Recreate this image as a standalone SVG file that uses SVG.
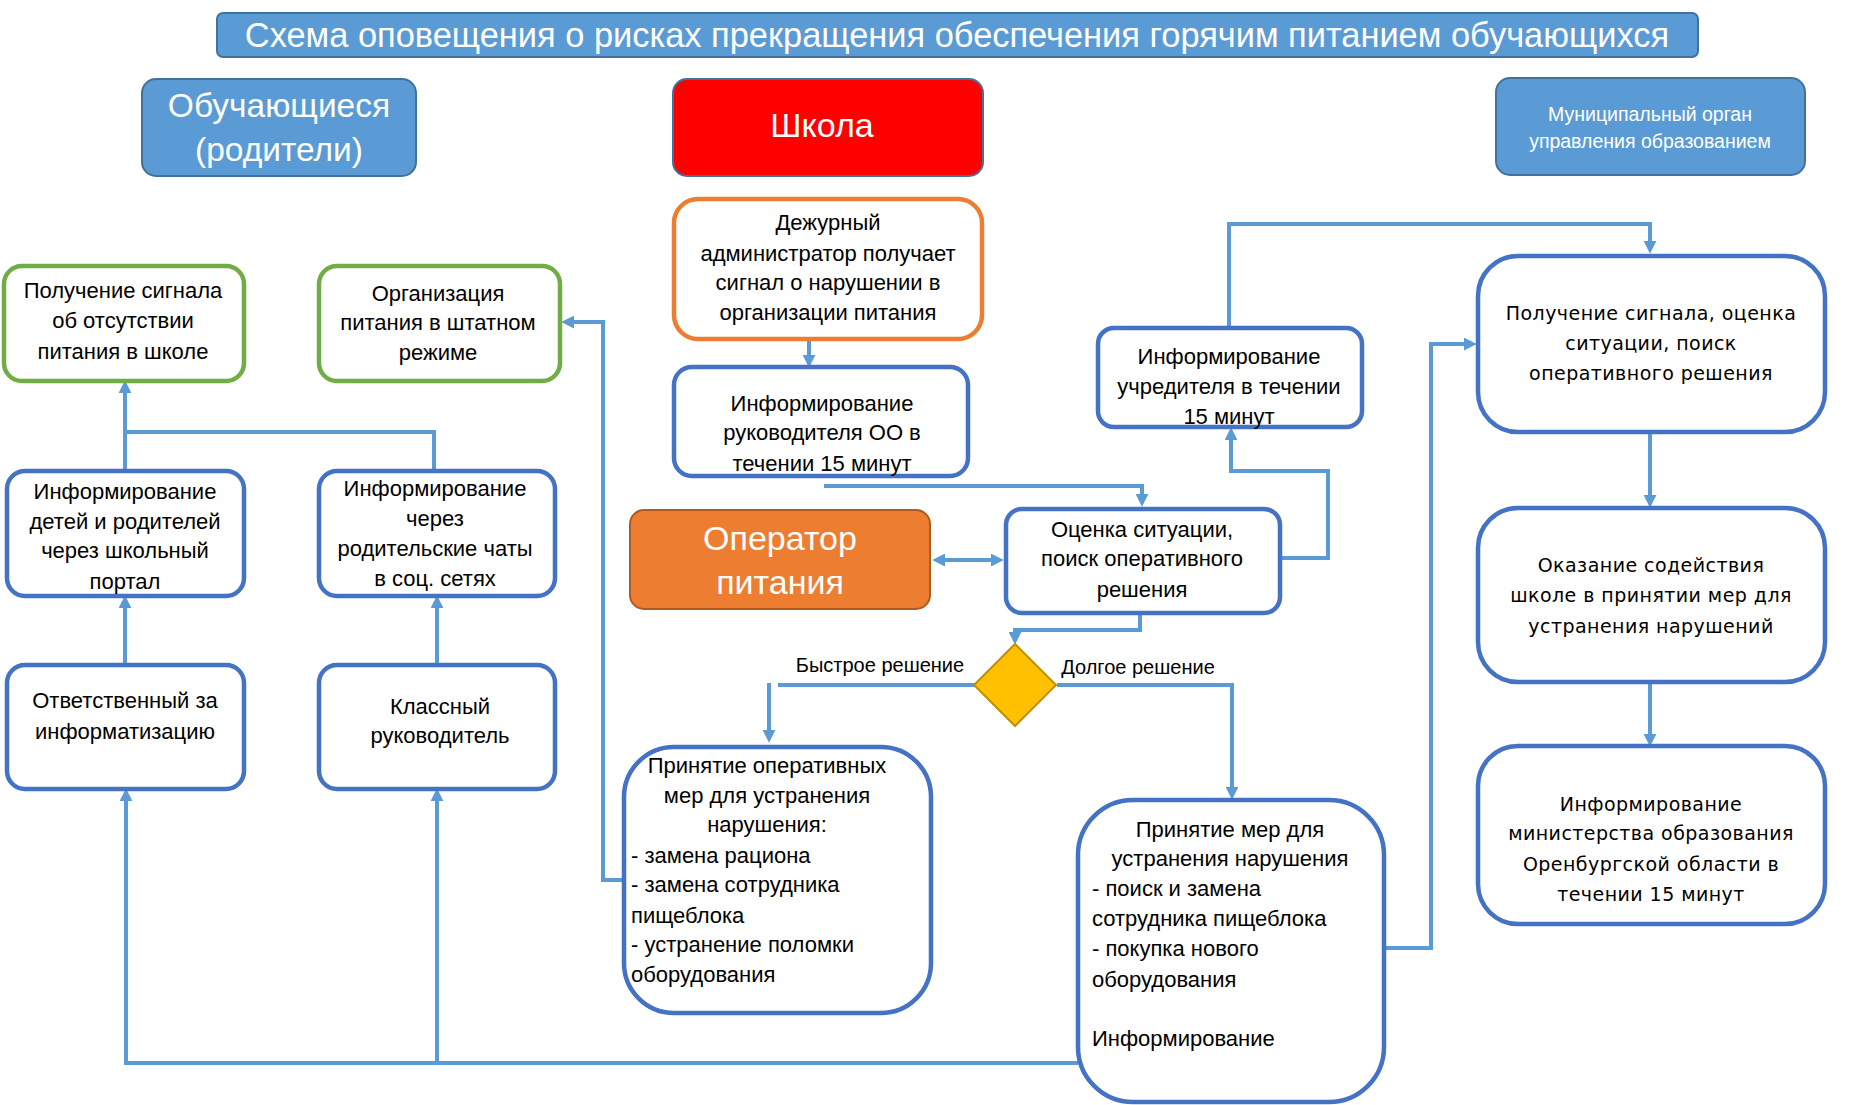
<svg xmlns="http://www.w3.org/2000/svg" width="1851" height="1105" viewBox="0 0 1851 1105">
<defs>
<marker id="arr" viewBox="0 0 12 12" markerWidth="13" markerHeight="13" refX="2" refY="6" orient="auto-start-reverse" markerUnits="userSpaceOnUse">
<path d="M0,0 L12,6 L0,12 z" fill="#5b9bd5"/>
</marker>
</defs>
<style>
text{font-family:"Liberation Sans",Arial,sans-serif;fill:#000;}
.t{font-size:22px;text-anchor:middle;}
.l{font-size:22px;text-anchor:start;}
.w{font-family:"DejaVu Sans",sans-serif;font-size:19px;letter-spacing:0.45px;text-anchor:middle;}
.hd{fill:#5b9bd5;stroke:#41719c;stroke-width:2;}
.hdt{fill:#fff;text-anchor:middle;}
.bb{fill:#fff;stroke:#4472c4;stroke-width:4.5;}
.gb{fill:#fff;stroke:#70ad47;stroke-width:4.5;}
.ob{fill:#fff;stroke:#ed7d31;stroke-width:4.5;}
.c{fill:none;stroke:#5b9bd5;stroke-width:4;}
.lbl{font-size:20px;text-anchor:middle;}
</style>
<rect width="1851" height="1105" fill="#fff"/>

<g id="title">
<rect class="hd" x="217" y="13" width="1481" height="44" rx="6"/>
<text class="hdt" x="957" y="47" font-size="34.4">Схема оповещения о рисках прекращения обеспечения горячим питанием обучающихся</text>
</g>

<g id="students">
<rect class="hd" x="142" y="79" width="274" height="97" rx="14"/>
<text class="hdt" x="279" y="117" font-size="33.5">Обучающиеся</text>
<text class="hdt" x="279" y="161" font-size="33.5">(родители)</text>
</g>

<g id="school">
<rect x="673" y="79" width="310" height="97" rx="14" fill="#ff0000" stroke="#41719c" stroke-width="2"/>
<text class="hdt" x="822" y="137" font-size="34">Школа</text>
</g>

<g id="muni">
<rect class="hd" x="1496" y="78" width="309" height="97" rx="14"/>
<text class="hdt" x="1650" y="121" font-size="19.5">Муниципальный орган</text>
<text class="hdt" x="1650" y="148" font-size="19.5">управления образованием</text>
</g>

<g id="connectors">
<path class="c" d="M809,341 V357" marker-end="url(#arr)"/>
<path class="c" d="M824,486 H1142 V496" marker-end="url(#arr)"/>
<path class="c" d="M943,560 H993" marker-start="url(#arr)" marker-end="url(#arr)"/>
<path class="c" d="M1282,558 H1328 V471 H1231 V438" marker-end="url(#arr)"/>
<path class="c" d="M1229,328 V224 H1650 V243" marker-end="url(#arr)"/>
<path class="c" d="M1650,432 V497" marker-end="url(#arr)"/>
<path class="c" d="M1650,682 V736" marker-end="url(#arr)"/>
<path class="c" d="M1140,613 V630 H1015 V634" marker-end="url(#arr)"/>
<path class="c" d="M975,685 H778"/>
<path class="c" d="M769,683 V732" marker-end="url(#arr)"/>
<path class="c" d="M1057,685 H1232 V789" marker-end="url(#arr)"/>
<path class="c" d="M626,880 H603 V322 H572" marker-end="url(#arr)"/>
<path class="c" d="M1384,948 H1431 V344 H1466" marker-end="url(#arr)"/>
<path class="c" d="M1078,1063 H126 V799" marker-end="url(#arr)"/>
<path class="c" d="M437,1063 V799" marker-end="url(#arr)"/>
<path class="c" d="M125,665 V606" marker-end="url(#arr)"/>
<path class="c" d="M437,665 V606" marker-end="url(#arr)"/>
<path class="c" d="M125,471 V391" marker-end="url(#arr)"/>
<path class="c" d="M434,469 V432 H125"/>
</g>

<g id="n_signal_absent">
<rect class="gb" x="4" y="266" width="240" height="115" rx="18"/>
<text class="t" x="123" y="298">Получение сигнала</text>
<text class="t" x="123" y="328">об отсутствии</text>
<text class="t" x="123" y="359">питания в школе</text>
</g>

<g id="n_normal">
<rect class="gb" x="319" y="266" width="241" height="115" rx="18"/>
<text class="t" x="438" y="301">Организация</text>
<text class="t" x="438" y="330">питания в штатном</text>
<text class="t" x="438" y="360">режиме</text>
</g>

<g id="n_portal">
<rect class="bb" x="7" y="471" width="237" height="125" rx="18"/>
<text class="t" x="125" y="499">Информирование</text>
<text class="t" x="125" y="529">детей и родителей</text>
<text class="t" x="125" y="558">через школьный</text>
<text class="t" x="125" y="589">портал</text>
</g>

<g id="n_chats">
<rect class="bb" x="319" y="471" width="236" height="125" rx="18"/>
<text class="t" x="435" y="496">Информирование</text>
<text class="t" x="435" y="526">через</text>
<text class="t" x="435" y="556">родительские чаты</text>
<text class="t" x="435" y="586">в соц. сетях</text>
</g>

<g id="n_it">
<rect class="bb" x="7" y="665" width="237" height="124" rx="18"/>
<text class="t" x="125" y="708">Ответственный за</text>
<text class="t" x="125" y="739">информатизацию</text>
</g>

<g id="n_teacher">
<rect class="bb" x="319" y="665" width="236" height="124" rx="18"/>
<text class="t" x="440" y="714">Классный</text>
<text class="t" x="440" y="743">руководитель</text>
</g>

<g id="n_duty">
<rect class="ob" x="674" y="199" width="308" height="140" rx="24"/>
<text class="t" x="828" y="230">Дежурный</text>
<text class="t" x="828" y="261">администратор получает</text>
<text class="t" x="828" y="290">сигнал о нарушении в</text>
<text class="t" x="828" y="320">организации питания</text>
</g>

<g id="n_head">
<rect class="bb" x="674" y="367" width="294" height="109" rx="18"/>
<text class="t" x="822" y="411">Информирование</text>
<text class="t" x="822" y="440">руководителя ОО в</text>
<text class="t" x="822" y="471">течении 15 минут</text>
</g>

<g id="n_operator">
<rect x="630" y="510" width="300" height="99" rx="14" fill="#ed7d31" stroke="#ae5a21" stroke-width="2"/>
<text class="hdt" x="780" y="550" font-size="34">Оператор</text>
<text class="hdt" x="780" y="594" font-size="34">питания</text>
</g>

<g id="n_assess">
<rect class="bb" x="1006" y="509" width="274" height="104" rx="16"/>
<text class="t" x="1142" y="537">Оценка ситуации,</text>
<text class="t" x="1142" y="566">поиск оперативного</text>
<text class="t" x="1142" y="597">решения</text>
</g>

<g id="n_founder">
<rect class="bb" x="1098" y="328" width="264" height="99" rx="16"/>
<text class="t" x="1229" y="364">Информирование</text>
<text class="t" x="1229" y="394">учредителя в течении</text>
<text class="t" x="1229" y="424">15 минут</text>
</g>

<g id="n_decision">
<polygon points="1015,644 1056,685 1015,726 974,685" fill="#ffc000" stroke="#bf9000" stroke-width="2"/>
<text class="lbl" x="880" y="672">Быстрое решение</text>
<text class="lbl" x="1138" y="674">Долгое решение</text>
</g>

<g id="n_quick">
<rect class="bb" x="624" y="747" width="307" height="266" rx="50"/>
<text class="t" x="767" y="773">Принятие оперативных</text>
<text class="t" x="767" y="803">мер для устранения</text>
<text class="t" x="767" y="832">нарушения:</text>
<text class="l" x="631" y="863">- замена рациона</text>
<text class="l" x="631" y="892">- замена сотрудника</text>
<text class="l" x="631" y="923">пищеблока</text>
<text class="l" x="631" y="952">- устранение поломки</text>
<text class="l" x="631" y="982">оборудования</text>
</g>

<g id="n_long">
<rect class="bb" x="1078" y="800" width="306" height="302" rx="55"/>
<text class="t" x="1230" y="837">Принятие мер для</text>
<text class="t" x="1230" y="866">устранения нарушения</text>
<text class="l" x="1092" y="896">- поиск и замена</text>
<text class="l" x="1092" y="926">сотрудника пищеблока</text>
<text class="l" x="1092" y="956">- покупка нового</text>
<text class="l" x="1092" y="987">оборудования</text>
<text class="l" x="1092" y="1046">Информирование</text>
</g>

<g id="n_muni_receive">
<rect class="bb" x="1478" y="256" width="347" height="176" rx="40"/>
<text class="w" x="1651" y="320">Получение сигнала, оценка</text>
<text class="w" x="1651" y="350">ситуации, поиск</text>
<text class="w" x="1651" y="380">оперативного решения</text>
</g>

<g id="n_muni_help">
<rect class="bb" x="1478" y="508" width="347" height="174" rx="40"/>
<text class="w" x="1651" y="572">Оказание содействия</text>
<text class="w" x="1651" y="602">школе в принятии мер для</text>
<text class="w" x="1651" y="633">устранения нарушений</text>
</g>

<g id="n_ministry">
<rect class="bb" x="1478" y="746" width="347" height="178" rx="40"/>
<text class="w" x="1651" y="811">Информирование</text>
<text class="w" x="1651" y="840">министерства образования</text>
<text class="w" x="1651" y="871">Оренбургской области в</text>
<text class="w" x="1651" y="901">течении 15 минут</text>
</g>
</svg>
